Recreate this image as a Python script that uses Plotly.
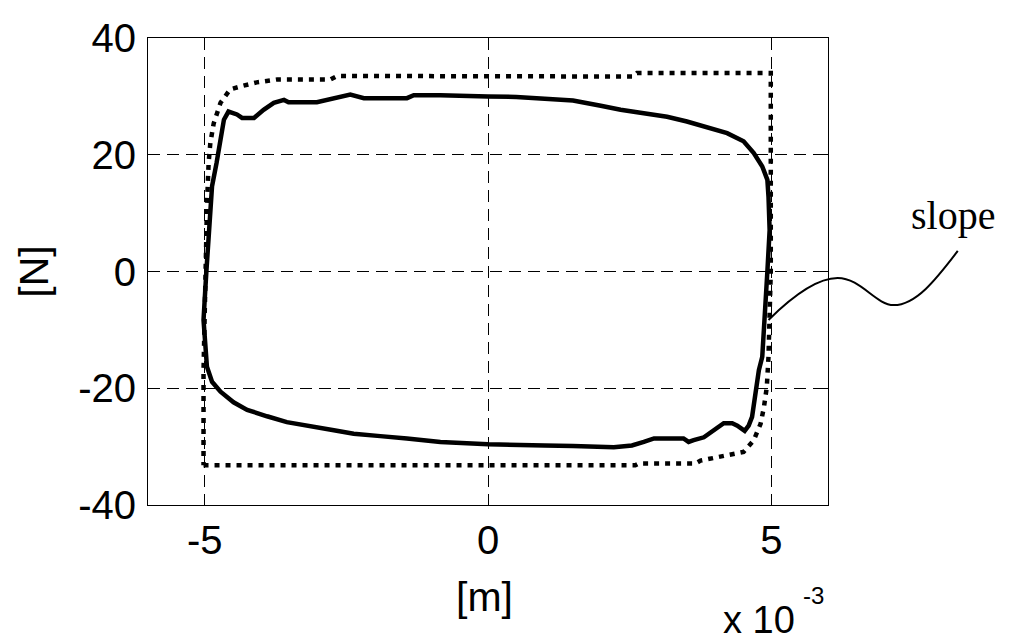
import plotly.graph_objects as go

# ---------------- data (x in units of 1e-3 m, y in N) ----------------
solid_x = [-4.97, -4.93, -4.87, -4.79, -4.72, -4.66, -4.58, -4.43, -4.34, -4.13, -3.96, -3.78,
           -3.60, -3.52, -3.02, -2.72, -2.43, -2.19, -1.43, -1.31, -0.84, 0.0, 0.5, 1.0, 1.5,
           1.99, 2.34, 2.69, 3.16, 3.51, 3.93, 4.22, 4.51, 4.69, 4.84, 4.93, 4.95, 4.97, 4.93,
           4.90, 4.87, 4.84, 4.78, 4.72, 4.66, 4.60, 4.53, 4.40, 4.31, 4.16, 3.98, 3.81, 3.63,
           3.54, 3.45, 2.93, 2.75, 2.54, 2.22, 1.99, 1.5, 1.0, 0.0, -0.84, -1.07, -1.43, -1.90,
           -2.37, -2.72, -3.19, -3.55, -3.90, -4.25, -4.49, -4.72, -4.87, -4.96, -4.99, -5.02,
           -5.00, -4.97]
solid_y = [0.0, 7.1, 14.6, 18.6, 23.1, 26.0, 27.4, 26.9, 26.3, 26.3, 27.7, 28.9,
           29.4, 29.0, 29.0, 29.7, 30.3, 29.7, 29.7, 30.2, 30.2, 30.0, 29.9, 29.6, 29.3,
           28.4, 27.7, 27.2, 26.5, 25.7, 24.6, 23.7, 22.3, 20.3, 18.0, 15.7, 12.8, 7.1, 0.0,
           -4.9, -9.5, -14.6, -16.9, -20.9, -24.9, -26.4, -27.3, -26.4, -26.0, -26.0, -27.2, -28.4, -28.9,
           -29.2, -28.6, -28.6, -29.2, -29.8, -30.1, -30.0, -29.9, -29.8, -29.6, -29.2, -28.9, -28.6, -28.2,
           -27.8, -27.2, -26.5, -25.8, -24.8, -23.7, -22.4, -20.6, -18.9, -16.3, -12.3, -8.3,
           -4.9, 0.0]

dotted_x = [-5.02, 2.60, 2.66, 3.66, 3.75, 4.22, 4.51, 4.69, 4.81, 4.87, 4.92, 4.95, 4.97,
            4.99, 4.99, 4.99, 2.63, 2.57, -2.66, -2.78, -3.72, -4.08, -4.37, -4.55, -4.72,
            -4.84, -4.90, -4.93, -4.96, -4.98, -5.00, -5.02, -5.02]
dotted_y = [-33.2, -33.2, -32.9, -32.9, -32.4, -31.5, -30.9, -28.9, -26.1, -23.2, -19.8, -14.6, -8.0,
            0.0, 17.0, 34.0, 34.0, 33.4, 33.5, 32.9, 32.9, 32.4, 31.7, 31.2, 28.9,
            25.4, 22.0, 18.6, 11.1, 0.0, -10.0, -17.0, -33.2]

# annotation curve ("slope" pointer), cubic Bezier control points in data units
slope_path_x = [4.95, 5.34, 5.78, 6.17, 6.58, 6.84, 7.16, 7.55, 7.90, 8.29]
slope_path_y = [-8.3, -4.55, -1.12, -1.12, -1.12, -5.75, -5.75, -5.75, -1.46, 3.52]

x_ticks = [-5, 0, 5]
x_ticktext = ["-5", "0", "5"]
y_ticks = [-40, -20, 0, 20, 40]
y_ticktext = ["-40", "-20", "0", "20", "40"]

X_RANGE = [-6, 6]
Y_RANGE = [-40, 40]

# ---------------- figure ----------------
fig = go.Figure()
fig.add_trace(go.Scatter(x=dotted_x, y=dotted_y, mode="lines",
                         line=dict(color="black", width=4.5, dash="5px,6px"),
                         showlegend=False, hoverinfo="skip"))
fig.add_trace(go.Scatter(x=solid_x, y=solid_y, mode="lines",
                         line=dict(color="black", width=4.5),
                         showlegend=False, hoverinfo="skip"))


def to_paper(x, y):
    px = (x - X_RANGE[0]) / (X_RANGE[1] - X_RANGE[0])
    py = (y - Y_RANGE[0]) / (Y_RANGE[1] - Y_RANGE[0])
    return px, py


pts = [to_paper(a, b) for a, b in zip(slope_path_x, slope_path_y)]
path = "M %f,%f" % pts[0]
for i in range(1, len(pts), 3):
    path += " C %f,%f %f,%f %f,%f" % (pts[i] + pts[i + 1] + pts[i + 2])
fig.add_shape(type="path", path=path, xref="paper", yref="paper",
              line=dict(color="black", width=2))

axis_common = dict(showline=True, mirror="ticks", linecolor="black", linewidth=1,
                   ticks="inside", ticklen=5, tickcolor="black", tickwidth=1,
                   showgrid=True, gridcolor="black", gridwidth=1, griddash="12px,7px",
                   zeroline=False, tickfont=dict(family="Liberation Sans, Arial", size=40, color="black"))

fig.update_xaxes(range=X_RANGE, tickvals=x_ticks, ticktext=x_ticktext, ticklabelstandoff=0, **axis_common)
fig.update_yaxes(range=Y_RANGE, tickvals=y_ticks, ticktext=y_ticktext, ticklabelstandoff=3, **axis_common)

L, R, T, B = 148, 197, 38, 139
fig.update_layout(width=1025, height=644, autosize=False,
                  margin=dict(l=L, r=R, t=T, b=B),
                  plot_bgcolor="white", paper_bgcolor="white", showlegend=False)

title_font = dict(family="Liberation Sans, Arial", size=41, color="black")
fig.add_annotation(text="[N]", xref="paper", yref="paper", x=-0.168, y=0.499,
                   xanchor="center", yanchor="middle", textangle=-90, showarrow=False, font=title_font)
fig.add_annotation(text="[m]", xref="paper", yref="paper", x=0.4944, y=-0.197,
                   xanchor="center", yanchor="middle", showarrow=False, font=title_font)
fig.add_annotation(text="x 10", xref="paper", yref="paper", x=0.842, y=-0.2473,
                   xanchor="left", yanchor="middle", showarrow=False,
                   font=dict(family="Liberation Sans, Arial", size=38, color="black"))
fig.add_annotation(text="-3", xref="paper", yref="paper", x=0.9785, y=-0.1938,
                   xanchor="center", yanchor="middle", showarrow=False,
                   font=dict(family="Liberation Sans, Arial", size=24, color="black"))
fig.add_annotation(text="slope", xref="paper", yref="paper", x=1.1845, y=0.620,
                   xanchor="center", yanchor="middle", showarrow=False,
                   font=dict(family="Liberation Serif, Times New Roman", size=40, color="black"))

fig.write_html("out.html")
